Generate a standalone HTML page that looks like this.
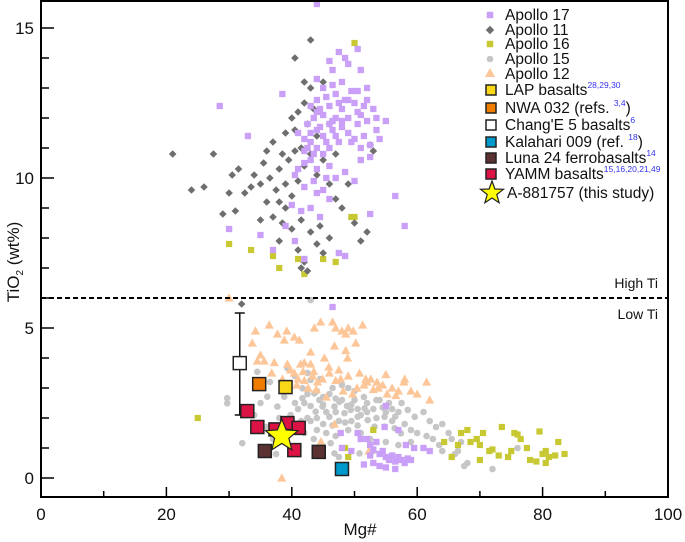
<!DOCTYPE html>
<html><head><meta charset="utf-8"><style>
html,body{margin:0;padding:0;background:#fff;}
svg{display:block;font-family:"Liberation Sans",Arial,sans-serif;}
</style></head><body>
<svg id="chart" width="685" height="542" viewBox="0 0 685 542" xmlns="http://www.w3.org/2000/svg">
<g id="marks"></g>
<g id="axes"></g>
<g id="legend"></g>
</svg>
<script>
const xTicks = [0,20,40,60,80,100];
const yTicks = [0,5,10,15];
const apollo17 = [[47.5,14.2],[46,13.9],[49,13.8],[50.5,14.3],[44,13.3],[51,13.6],[52,13.0],[48,13.2],[49.5,12.9],[47,12.8],[45.5,12.7],[44,12.6],[50,12.5],[51.5,12.4],[53,12.3],[46,12.4],[48,12.3],[49,12.0],[47,12.0],[45,12.1],[43.5,12.0],[44.5,11.7],[42.5,11.8],[41,11.5],[42,11.3],[43,11.2],[44,11.0],[45,11.4],[46.5,11.6],[48,11.7],[49,11.5],[50.5,11.8],[52,11.9],[53.5,11.6],[55,11.9],[54,11.3],[52.5,11.1],[51,11.0],[50,11.3],[47.5,11.2],[46,11.0],[45,10.8],[43,10.6],[42,10.5],[41,10.3],[44,10.3],[46,10.4],[47,10.0],[48.5,10.2],[51,10.6],[52.5,10.7],[50,9.9],[40.5,10.1],[42,9.7],[44,9.5],[46,9.3],[40,9.1],[41.5,8.9],[43,9.0],[44.5,8.7],[39,8.4],[35,8.1],[40.5,7.9],[42,7.3],[47.5,7.5],[58,8.4],[28.5,12.4],[33,11.4],[56.5,9.4],[44,15.8],[38.5,12.8],[46.5,11.9],[48.5,12.6],[51.5,11.4],[44.5,12.3],[43,11.5],[42,10.9],[45.5,10.0],[43.5,9.9],[45,9.6],[30,8.3],[37,7.6],[48.5,7.4],[52.5,8.8],[45,13.0],[46.5,13.1],[47.5,12.5],[49,12.6],[50.5,12.9],[48,11.9],[46,11.8],[44,12.2],[43,12.4],[45.5,11.2],[44,11.6],[42.5,11.0],[47,11.4],[49.5,11.2],[50.5,12.2],[52,12.6],[53.5,12.0],[51,12.1],[43.5,10.8],[46.5,13.6],[48.5,14.0],[46.5,5.7],[48,1.0],[49.5,0.9],[50.5,1.5],[51,1.3],[52,1.3],[52.5,1.1],[53,0.95],[53.5,1.2],[54,0.8],[54.5,0.9],[55,0.7],[55.5,0.6],[56,0.75],[56.5,0.55],[57,0.7],[57.5,0.6],[58,0.5],[58.5,0.65],[59,0.6],[53,0.5],[54,0.4],[55,0.35],[56.5,0.3],[52.5,0.75],[51.5,0.45],[57,1.6],[55,2.4],[59.5,1.0],[62,0.9],[61,1.0],[47.8,1.5],[54.8,1.7],[58.2,1.1]];
const apollo11 = [[21,10.8],[24,9.6],[27.5,10.8],[26,9.7],[30.5,10.1],[31.5,10.3],[30,9.5],[32.5,9.5],[29,8.8],[31,8.9],[33.5,9.7],[34,10.1],[35,9.8],[35.5,10.5],[36,10.9],[37,11.2],[36.5,10.0],[37.5,9.6],[38,10.3],[38.5,10.8],[39,11.5],[40,12.0],[40.5,11.6],[41,12.2],[41.5,11.0],[42,12.5],[42.5,11.8],[43,13.0],[43.5,12.3],[44,11.4],[38,9.2],[39,9.0],[40,9.4],[41,9.9],[42,10.4],[43,10.8],[44,10.1],[45,10.6],[46,9.8],[37,8.7],[38.5,8.5],[40,8.3],[41.5,8.6],[43,8.2],[44.5,8.4],[46,8.0],[47,9.3],[48,9.0],[49,9.8],[50,8.5],[51,7.9],[52,8.2],[53,10.9],[52.5,11.1],[41,7.6],[42,7.2],[42.5,6.9],[41.5,7.0],[44,7.8],[45,7.5],[38,7.9],[35,8.6],[36,9.2],[47,10.8],[46,11.8],[40.5,14.0],[43,14.6],[42,13.2],[45,13.2],[39.5,10.6],[40.5,10.9],[39,9.8],[32,5.8]];
const apollo16 = [[50,14.5],[50,8.7],[49.5,8.7],[30,7.8],[33.5,7.6],[37,7.4],[41,7.3],[38,7.0],[42,6.8],[45,7.3],[47,7.2],[25,2.0],[48.5,1.0],[49,0.7],[53,1.6],[64.3,1.2],[65.5,0.7],[66.5,1.1],[67,1.5],[68,1.6],[68.5,1.2],[69.5,1.3],[70,1.1],[70.5,1.5],[71.5,0.9],[72,0.95],[73,0.75],[73.5,1.7],[74.5,0.7],[75.5,1.5],[76,1.45],[76.5,1.3],[77.5,1.0],[78,0.6],[79,0.55],[80,0.8],[80.5,0.9],[80.5,0.5],[81,0.7],[82,0.75],[82.5,1.2],[83.5,0.8],[79.5,1.55],[75,0.9],[70,0.6]];
const apollo15 = [[29.7,2.66],[29.7,2.49],[32.1,1.16],[34.5,3.54],[36.1,2.71],[37.7,2.38],[39.3,3.66],[38.8,2.71],[39.8,2.1],[41.7,2.99],[41.7,2.66],[43,3.27],[43.6,2.82],[44.4,2.6],[43.8,2.21],[44.9,2.38],[46,2.04],[46.8,2.38],[47.6,2.54],[48.4,2.16],[49.4,2.27],[50.5,2.04],[51.6,2.32],[52.1,1.93],[53.2,1.71],[54.8,2.04],[56.4,1.66],[57.4,1.49],[58.5,2.27],[59.6,2.04],[59,1.6],[50.8,0.82],[46.8,0.82],[46.2,1.16],[54.8,1.71],[43,5.93],[40.5,2.5],[41,2.3],[42,2.5],[42.5,2.0],[43,2.4],[44,2.9],[45,2.7],[45.5,2.2],[46,2.8],[47,2.2],[47.5,1.9],[48,2.6],[48.8,2.4],[49.5,1.9],[50,2.6],[50.5,2.3],[51,2.1],[52,2.5],[53,2.3],[53.5,2.0],[54,2.6],[55,2.2],[55.5,2.5],[56,1.9],[57,2.2],[58,1.8],[45,1.8],[44,1.6],[42,1.5],[40,1.9],[38,2.0],[37,1.3],[36,1.7],[35,2.5],[34,2.1],[39,1.5],[41,1.0],[43.5,1.3],[45.5,1.5],[47,1.4],[49,1.6],[51,1.5],[52.5,1.3],[55,1.2],[57,1.1],[59,1.2],[60,1.5],[61,2.2],[62,1.9],[62.5,1.3],[63.5,1.1],[64,0.9],[65.5,1.3],[66,0.8],[68,0.5],[67,1.2],[63,1.7],[61.5,1.4],[46.5,3.0],[48,3.1],[44.5,3.3],[42.5,3.5],[40.5,3.4],[50,2.9],[41.5,1.9],[43,1.9],[47.5,0.7],[53,0.9],[37.5,0.8],[36.5,3.2],[38.5,3.0],[49,3.0],[67.5,0.4],[76,1.0],[72,0.3],[65,1.5],[64,1.8],[66.5,0.9],[42.5,2.8],[45,2.45],[47,2.65],[49.5,2.45],[51.5,2.7],[53.5,2.6],[56,2.3],[57.5,2.5],[44,2.0],[46.5,1.75],[48.5,1.85],[50.5,1.75],[52,2.2],[54.5,2.35],[56.5,2.05]];
const apollo12 = [[30,6.0],[34.2,4.9],[33.7,4.5],[36.4,5.1],[37.7,4.8],[39.2,4.9],[38.8,4.6],[40.4,4.7],[41.2,4.6],[43.6,5.0],[44.6,5.2],[46.5,5.2],[48,4.9],[49,5.0],[48.6,4.8],[51.3,5.1],[50.2,4.5],[48.6,4.25],[48.9,4.0],[43,4.2],[43,3.8],[45.9,3.7],[34.5,3.9],[35.6,3.9],[37.2,3.85],[35,4.1],[39.3,3.8],[39.8,3.6],[40.4,3.5],[41.4,3.8],[42,3.85],[41,3.3],[42,3.25],[43.3,3.4],[44.1,3.2],[44.9,3.3],[47,3.25],[47.8,3.3],[49,3.4],[50.4,3.0],[51.5,3.1],[52,3.2],[52.6,3.3],[53.6,3.2],[55,3.45],[53,2.95],[55.2,2.8],[56.6,2.75],[57.9,3.2],[59,2.9],[44.7,1.2],[46.8,1.8],[38.4,0.0],[43.9,2.95],[42.6,3.0],[45.5,2.7],[58,3.3],[60,2.8],[61.5,3.2],[62,2.6],[44.6,1.2],[52.3,0.9],[46,3.5],[47.5,3.6],[50.8,3.5],[51.8,3.3],[53.8,3.0],[54.5,3.1],[56,3.0],[57,2.9],[48.2,2.9],[49.7,2.8],[40.8,3.1],[38.5,3.3],[36.8,3.5],[45.2,4.0],[46.8,4.4],[49.8,4.9],[47,5.0],[41.8,3.55],[43.5,3.55]];
const lapBasalts = [[39,3.03]];
const nwa032 = [[34.8,3.13]];
const changE5 = [[31.7,3.83]];
const changE5Err = [[2.1,5.5]];
const kalahari009 = [[48,0.3]];
const luna24 = [[35.7,0.9],[44.3,0.87]];
const yamm = [[32.9,2.23],[34.5,1.7],[37.4,1.62],[39.3,1.83],[41.1,1.67],[40.4,0.93]];
const thisStudy = [[38.4,1.4]];
const tiThreshold = 6;

const NS="http://www.w3.org/2000/svg";
function X(v){return 41+v*6.27;}
function Y(v){return 478-v*30;}
function mk(tag,attrs,parent){const e=document.createElementNS(NS,tag);for(const k in attrs)e.setAttribute(k,attrs[k]);parent.appendChild(e);return e;}
const marks=document.getElementById('marks');
const axes=document.getElementById('axes');
const legend=document.getElementById('legend');

function square(g,cx,cy,s,fill,stroke){return mk('rect',{x:cx-s/2,y:cy-s/2,width:s,height:s,fill:fill,stroke:stroke||'none','stroke-width':stroke?1.5:0},g);}
function diamond(g,cx,cy,s,fill){return mk('polygon',{points:`${cx},${cy-s} ${cx+s},${cy} ${cx},${cy+s} ${cx-s},${cy}`,fill:fill},g);}
function circle(g,cx,cy,r,fill){return mk('circle',{cx:cx,cy:cy,r:r,fill:fill},g);}
function tri(g,cx,cy,s,fill){return mk('polygon',{points:`${cx},${cy-s} ${cx+s},${cy+s*0.8} ${cx-s},${cy+s*0.8}`,fill:fill},g);}
function star(g,cx,cy,R,r){let p=[];for(let i=0;i<10;i++){const a=-Math.PI/2+i*Math.PI/5;const rr=i%2?r:R;p.push((cx+rr*Math.cos(a)).toFixed(1)+','+(cy+rr*Math.sin(a)).toFixed(1));}return mk('polygon',{points:p.join(' '),fill:'#ffff00',stroke:'#222','stroke-width':1.2},g);}

const C17='#c99ff8',C11='#6e6e6e',C16='#c8c832',C15='#c6c6c6',C12='#fdc699';
apollo15.forEach(d=>{const e=circle(marks,X(d[0]),Y(d[1]),3.3,C15);

});
apollo12.forEach(d=>{const e=tri(marks,X(d[0]),Y(d[1]),4.6,C12);

});
apollo16.forEach(d=>{const e=square(marks,X(d[0]),Y(d[1]),6.2,C16);

});
apollo11.forEach(d=>{const e=diamond(marks,X(d[0]),Y(d[1]),3.8,C11);

});
apollo17.forEach(d=>{const e=square(marks,X(d[0]),Y(d[1]),6.3,C17);

});

const th=mk('line',{x1:41,x2:668,y1:Y(tiThreshold),y2:Y(tiThreshold),stroke:'#000','stroke-width':2,'stroke-dasharray':'5,3'},axes);



changE5Err.forEach((d,i)=>{const cx=X(changE5[i][0]);const g=mk('g',{},marks);


mk('line',{x1:cx,x2:cx,y1:Y(d[0]),y2:Y(d[1]),stroke:'#111','stroke-width':1.5},g);
mk('line',{x1:cx-5,x2:cx+5,y1:Y(d[0]),y2:Y(d[0]),stroke:'#111','stroke-width':1.5},g);
mk('line',{x1:cx-5,x2:cx+5,y1:Y(d[1]),y2:Y(d[1]),stroke:'#111','stroke-width':1.5},g);});

function big(arr,fill,name){arr.forEach(d=>{const e=square(marks,X(d[0]),Y(d[1]),13,fill,'#222');

});}
big(changE5,'#ffffff','change5-point');
big(nwa032,'#f07d00','nwa032-point');
big(lapBasalts,'#fbd817','lap-point');
big(kalahari009,'#0099cc','kalahari009-point');
big(luna24,'#5b3131','luna24-point');
big(yamm,'#dc1446','yamm-point');
thisStudy.forEach(d=>{const e=star(marks,X(d[0]),Y(d[1]),17,7.5);

});

const fr=mk('rect',{x:41,y:1,width:627,height:496,fill:'none',stroke:'#000','stroke-width':2},axes);


for(let v=0;v<=100;v+=10){const x=X(v);const maj=v%20===0;mk('line',{x1:x,x2:x,y1:497,y2:maj?487:491,stroke:'#000','stroke-width':1.5},axes);}
for(let v=0;v<=15;v+=1){const y=Y(v);const maj=v%5===0;mk('line',{x1:41,x2:maj?54:49,y1:y,y2:y,stroke:'#000','stroke-width':1.5},axes);}
xTicks.forEach(v=>{const t=mk('text',{x:X(v),y:520,'font-size':17,'text-anchor':'middle',fill:'#111'},axes);t.textContent=v;

});
yTicks.forEach(v=>{const t=mk('text',{x:34,y:Y(v)+6,'font-size':17,'text-anchor':'end',fill:'#111'},axes);t.textContent=v;

});
const xt=mk('text',{x:360,y:535,'font-size':17,'text-anchor':'middle',fill:'#111'},axes);xt.textContent='Mg#';


const yt=mk('text',{x:0,y:0,'font-size':17,'text-anchor':'middle',fill:'#111',transform:'translate(19,262) rotate(-90)'},axes);
yt.innerHTML='TiO<tspan font-size="10" dy="4">2</tspan><tspan dy="-4"> (wt%)</tspan>';


const hi=mk('text',{x:658,y:288,'font-size':14,'text-anchor':'end',fill:'#111'},axes);hi.textContent='High Ti';


const lo=mk('text',{x:658,y:319,'font-size':14,'text-anchor':'end',fill:'#111'},axes);lo.textContent='Low Ti';



const lx=490,tx=505;
const rows=[
['sq',C17,'Apollo 17','',15],['di',C11,'Apollo 11','',30],['sq',C16,'Apollo 16','',44],['ci',C15,'Apollo 15','',59],['tr',C12,'Apollo 12','',74],
['big','#fbd817','LAP basalts','28,29,30',90],['big','#f07d00','NWA 032 (refs. ','3,4',108],['big','#ffffff',"Chang'E 5 basalts",'6',125],
['big','#0099cc','Kalahari 009 (ref. ','18',142],['big','#5b3131','Luna 24 ferrobasalts','14',158],['big','#dc1446','YAMM basalts','15,16,20,21,49',174],['star','','A-881757 (this study)','',193]];
rows.forEach(r=>{const g=mk('g',{},legend);


const y=r[4];
if(r[0]==='sq')square(g,lx,y,6.5,r[1]);
else if(r[0]==='di')diamond(g,lx,y,4.2,r[1]);
else if(r[0]==='ci')circle(g,lx,y,3.3,r[1]);
else if(r[0]==='tr')tri(g,lx,y-1,5,r[1]);
else if(r[0]==='big')square(g,lx+1,y,10,r[1],'#222');
else star(g,lx+2,y,12,5);
const t=mk('text',{x:r[0]==='star'?tx+2:tx,y:y+5,'font-size':15.5,fill:'#111'},g);
let html=r[2].replace(/</g,'&lt;');
if(r[3])html+='<tspan font-size="8.5" fill="#3333ee" dy="-7">'+r[3]+'</tspan>';
if(r[2].endsWith(' '))html+='<tspan dy="7">)</tspan>';
t.innerHTML=html;});
</script>
</body></html>
